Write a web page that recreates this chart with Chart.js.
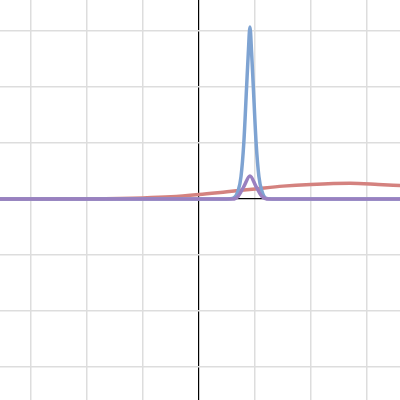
<!DOCTYPE html>
<html><head><style>html,body{margin:0;padding:0;background:#fff}#c{width:400px;height:400px}</style>
<script src="https://cdn.jsdelivr.net/npm/chart.js"></script></head>
<body><div id="c"><canvas id="cv" width="400" height="400"></canvas></div>
<script>
const tickValues=[-3,-2,-1,0,1,2,3];
const blueX=[-3.6,0.5,0.6,0.7,0.75,0.8,0.85,0.88,0.91,0.94,0.97,1.02,1.07,1.12,1.2,1.3,3.6];
const blueY=[0,0,0.01,0.15,0.4,1.0,2.0,2.6,3.07,2.6,2.0,1.0,0.4,0.15,0.01,0,0];
const purpleX=[-3.6,0.6,0.7,0.8,0.91,1.02,1.12,1.25,3.6];
const purpleY=[0,0,0.05,0.22,0.41,0.22,0.05,0,0];
const redX=[-3.6,-2,-1,-0.5,0,0.5,1,1.5,2,2.7,3.2,3.6];
const redY=[0,0.005,0.02,0.04,0.08,0.13,0.18,0.23,0.26,0.28,0.26,0.24];
const pts=(xs,ys)=>xs.map((x,i)=>({x:x,y:ys[i]}));
const ds=(xs,ys,c)=>({data:pts(xs,ys),borderColor:c,borderWidth:3.5,pointRadius:0,showLine:true,tension:0.4,cubicInterpolationMode:'monotone',fill:false});
const axis=(min,max,rev)=>({type:'linear',min:min,max:max,reverse:false,
 afterBuildTicks:s=>{s.ticks=tickValues.map(v=>({value:v}));},
 ticks:{display:false},border:{display:false},
 grid:{drawTicks:false,lineWidth:c=>c.tick&&c.tick.value===0?1.2:1.5,color:c=>c.tick&&c.tick.value===0?'#000':'#dddddd'}});
new Chart(document.getElementById('cv'),{type:'scatter',
 data:{datasets:[ds(purpleX,purpleY,'#9a80c0'),ds(blueX,blueY,'#7ea3d2'),ds(redX,redY,'#d4827f')]},
 options:{responsive:false,animation:false,layout:{padding:0},
  plugins:{legend:{display:false},tooltip:{enabled:false}},
  scales:{x:axis(-199/56,201/56),y:axis(-201/56,199/56)}}});
</script></body></html>
